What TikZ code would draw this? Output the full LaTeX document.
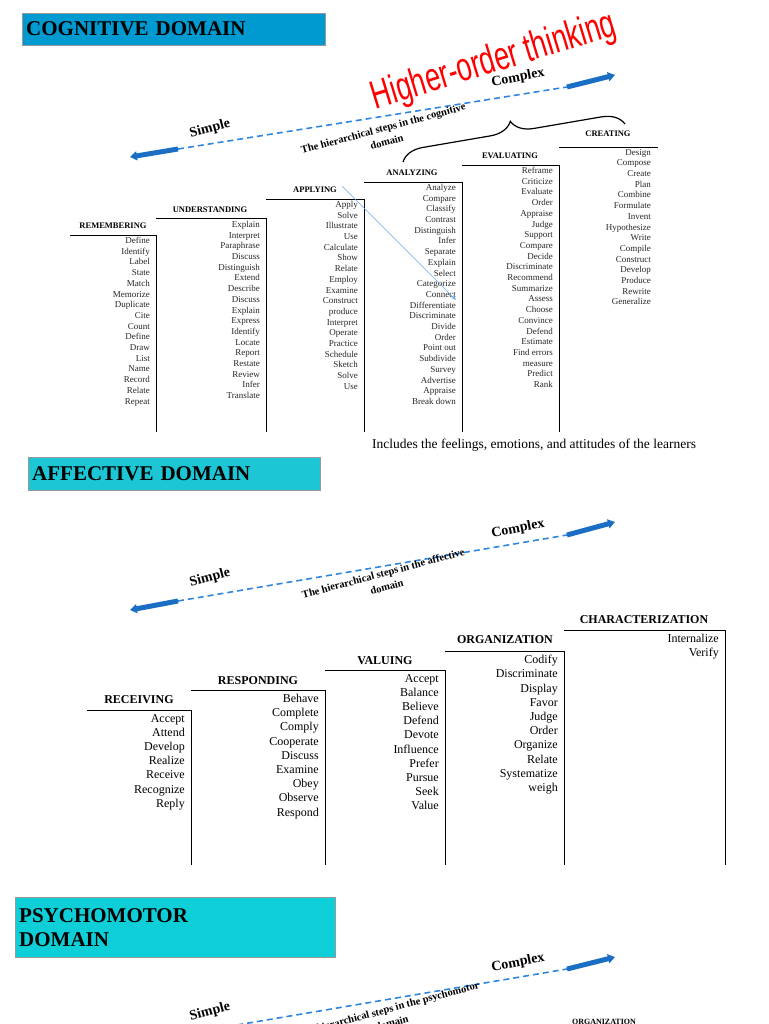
\documentclass[tikz,border=0pt]{standalone}
\usepackage{fontspec}
\setmainfont{Liberation Serif}
\newfontfamily\hsans{Liberation Sans}
\usetikzlibrary{decorations.pathreplacing,arrows.meta}
\definecolor{arrblue}{HTML}{1A6FC4}
\definecolor{dashblue}{HTML}{2E86DE}
\begin{document}
\begin{tikzpicture}[x=1pt,y=-1pt,
  stepline/.style={line width=0.9pt,black},
  lvl/.style={font=\bfseries\fontsize{8.5}{10}\selectfont,inner sep=0pt},
  lvlb/.style={font=\bfseries\fontsize{12}{14}\selectfont,inner sep=0pt},
  words/.style={anchor=north east,align=right,inner sep=0pt,font=\fontsize{9}{10.7}\selectfont,text=black!85},
  wordsb/.style={anchor=north east,align=right,inner sep=0pt,font=\fontsize{12}{14.2}\selectfont},
  title/.style={anchor=north west,draw=black!40,text width=#1,inner sep=4pt,font=\bfseries\fontsize{21}{24}\selectfont,align=left},
  fat/.style={-{Triangle[length=7pt,width=9pt]},line width=5pt,arrblue},
  dsh/.style={dash pattern=on 6pt off 4pt,dashblue,line width=1.6pt},
  bold11/.style={font=\bfseries\fontsize{14}{15}\selectfont},
  steptxt/.style={font=\bfseries\fontsize{10.5}{14}\selectfont,align=center}]
\useasboundingbox (0,0) rectangle (768,1024);
\clip (0,0) rectangle (768,1024);
% ---------- COGNITIVE ----------
\node[title=295pt,fill={rgb,255:red,0;green,153;blue,208},minimum height=32pt] (tc) at (22,13) {COGNITIVE DOMAIN};
\node[font=\hsans\fontsize{40}{42}\selectfont,text=red,rotate=17,xscale=0.68] (hot) at (494,62) {Higher-order thinking};
\coordinate (s1) at (178,149); \coordinate (s1t) at (130,157);
\coordinate (c1) at (567,87); \coordinate (c1t) at (615,75);
\draw[dsh] (s1) -- (c1);
\draw[fat] (s1) -- (s1t);
\draw[fat] (c1) -- (c1t);
\node[bold11,rotate=15] (simple1) at (210,129) {Simple};
\node[bold11,rotate=11] (complex1) at (518,78) {Complex};
\node[steptxt,rotate=15] (h1) at (385,135) {The hierarchical steps in the cognitive\\domain};
\coordinate (b1) at (403,162); \coordinate (b2) at (625,124);
\draw[decorate,decoration={brace,amplitude=22pt,aspect=0.5},line width=1.2pt] (b1) -- (b2);
% steps
\draw[stepline] (70,235) -- (156,235) -- (156,432);
\draw[stepline] (156,218) -- (266,218) -- (266,432);
\draw[stepline] (266,199) -- (364,199) -- (364,432);
\draw[stepline] (364,182) -- (462,182) -- (462,432);
\draw[stepline] (462,165) -- (559,165) -- (559,432);
\draw[stepline] (559,147) -- (658,147);
\node[lvl] (l1) at (113,226) {REMEMBERING};
\node[lvl] (l2) at (210,210) {UNDERSTANDING};
\node[lvl] (l3) at (315,190) {APPLYING};
\node[lvl] (l4) at (412,173) {ANALYZING};
\node[lvl] (l5) at (510,156) {EVALUATING};
\node[lvl] (l6) at (608,134) {CREATING};
\node[words] (w1) at (150,237) {Define\\Identify\\Label\\State\\Match\\Memorize\\Duplicate\\Cite\\Count\\Define\\Draw\\List\\Name\\Record\\Relate\\Repeat};
\node[words] (w2) at (260,221) {Explain\\Interpret\\Paraphrase\\Discuss\\Distinguish\\Extend\\Describe\\Discuss\\Explain\\Express\\Identify\\Locate\\Report\\Restate\\Review\\Infer\\Translate};
\node[words] (w3) at (358,201) {Apply\\Solve\\Illustrate\\Use\\Calculate\\Show\\Relate\\Employ\\Examine\\Construct\\produce\\Interpret\\Operate\\Practice\\Schedule\\Sketch\\Solve\\Use};
\node[words] (w4) at (456,184) {Analyze\\Compare\\Classify\\Contrast\\Distinguish\\Infer\\Separate\\Explain\\Select\\Categorize\\Connect\\Differentiate\\Discriminate\\Divide\\Order\\Point out\\Subdivide\\Survey\\Advertise\\Appraise\\Break down};
\node[words] (w5) at (553,167) {Reframe\\Criticize\\Evaluate\\Order\\Appraise\\Judge\\Support\\Compare\\Decide\\Discriminate\\Recommend\\Summarize\\Assess\\Choose\\Convince\\Defend\\Estimate\\Find errors\\measure\\Predict\\Rank};
\node[words] (w6) at (651,149) {Design\\Compose\\Create\\Plan\\Combine\\Formulate\\Invent\\Hypothesize\\Write\\Compile\\Construct\\Develop\\Produce\\Rewrite\\Generalize};
\coordinate (ln1) at (342,186); \coordinate (ln2) at (456,300);
\draw[-{Stealth[length=5pt]},dashblue!70,line width=0.6pt] (ln1) -- (ln2);
\node[font=\fontsize{13.5}{15}\selectfont] (inc) at (534,445) {Includes the feelings, emotions, and attitudes of the learners};
% ---------- AFFECTIVE ----------
\node[title=284pt,fill={rgb,255:red,28;green,198;blue,212},minimum height=33pt] (ta) at (28,457) {AFFECTIVE DOMAIN};
\coordinate (s2) at (178,601); \coordinate (s2t) at (130,610);
\coordinate (c2) at (567,535); \coordinate (c2t) at (615,522);
\draw[dsh] (s2) -- (c2);
\draw[fat] (s2) -- (s2t);
\draw[fat] (c2) -- (c2t);
\node[bold11,rotate=15] (simple2) at (210,578) {Simple};
\node[bold11,rotate=11] (complex2) at (518,529) {Complex};
\node[steptxt,rotate=15] (h2) at (385,580) {The hierarchical steps in the affective\\domain};
\draw[stepline] (87,710) -- (191,710) -- (191,865);
\draw[stepline] (191,690) -- (325,690) -- (325,865);
\draw[stepline] (325,670) -- (445,670) -- (445,865);
\draw[stepline] (445,651) -- (564,651) -- (564,865);
\draw[stepline] (564,630) -- (725,630) -- (725,865);
\node[lvlb] (a1) at (139,700) {RECEIVING};
\node[lvlb] (a2) at (258,681) {RESPONDING};
\node[lvlb] (a3) at (385,661) {VALUING};
\node[lvlb] (a4) at (505,640) {ORGANIZATION};
\node[lvlb] (a5) at (644,620) {CHARACTERIZATION};
\node[wordsb] (v1) at (185,714) {Accept\\Attend\\Develop\\Realize\\Receive\\Recognize\\Reply};
\node[wordsb] (v2) at (319,694) {Behave\\Complete\\Comply\\Cooperate\\Discuss\\Examine\\Obey\\Observe\\Respond};
\node[wordsb] (v3) at (439,674) {Accept\\Balance\\Believe\\Defend\\Devote\\Influence\\Prefer\\Pursue\\Seek\\Value};
\node[wordsb] (v4) at (558,655) {Codify\\Discriminate\\Display\\Favor\\Judge\\Order\\Organize\\Relate\\Systematize\\weigh};
\node[wordsb] (v5) at (719,634) {Internalize\\Verify};
% ---------- PSYCHOMOTOR ----------
\node[title=312pt,fill={rgb,255:red,14;green,207;blue,216},minimum height=60pt] (tp) at (15,897) {PSYCHOMOTOR\\DOMAIN};
\coordinate (s3) at (178,1035); \coordinate (s3t) at (130,1043);
\coordinate (c3) at (567,969); \coordinate (c3t) at (615,957);
\draw[dsh] (s3) -- (c3);
\draw[fat] (s3) -- (s3t);
\draw[fat] (c3) -- (c3t);
\node[bold11,rotate=15] (simple3) at (210,1012) {Simple};
\node[bold11,rotate=11] (complex3) at (518,963) {Complex};
\node[steptxt,rotate=15] (h3) at (390,1016) {The hierarchical steps in the psychomotor\\domain};
\node[lvl,font=\bfseries\fontsize{8}{9}\selectfont] (p4) at (604,1022) {ORGANIZATION};
\end{tikzpicture}
\end{document}
